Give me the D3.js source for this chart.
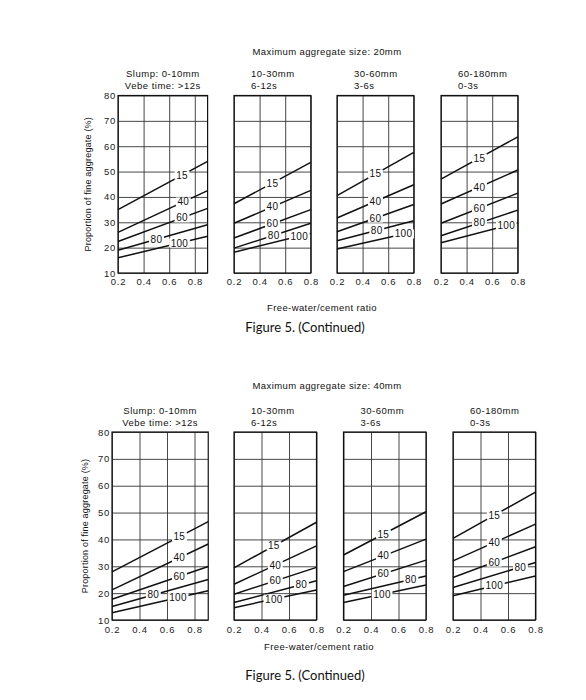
<!DOCTYPE html>
<html>
<head>
<meta charset="utf-8">
<script src="https://cdn.jsdelivr.net/npm/d3@7"></script>
<style>
  body { margin: 0; background: #fff; }
  svg { display: block; }
  .tick text { font-family: "Liberation Sans", Arial, sans-serif; font-size: 9.5px; letter-spacing: 0.7px; fill: #222; }
  .tick line { stroke: #333; stroke-width: 0.9; }
</style>
</head>
<body>
<div id="chart"></div>
<script>
// grid ticks
const xTicks = [0.2, 0.4, 0.6, 0.8];
const yTicks = [10, 20, 30, 40, 50, 60, 70, 80];

// line labels (% passing 600um sieve)
const curveLabels = ["15", "40", "60", "80", "100"];

// panel headings: slump / vebe time
const panelHeads = [
  ["Slump: 0-10mm", "Vebe time: >12s"],
  ["10-30mm", "6-12s"],
  ["30-60mm", "3-6s"],
  ["60-180mm", "0-3s"]
];
const xMaxes = [0.9, 0.8, 0.8, 0.8];

// max aggregate 20mm : value at w/c 0.2 and at right edge, per panel, per curve
const start20 = [
  [35, 26, 22.4, 19, 16],
  [37.3, 29.6, 23.8, 19.8, 18.2],
  [40.5, 31.7, 26.3, 22.7, 19.5],
  [47, 37.2, 29.6, 24.7, 21.9]
];
const end20 = [
  [54, 42.5, 35.5, 29, 24.5],
  [53.6, 42.6, 35, 29.6, 25.7],
  [57.6, 44.8, 37, 30.6, 26.3],
  [63.7, 50.6, 41.5, 34.8, 29.8]
];
const labelX20 = [
  [0.70, 0.71, 0.70, 0.50, 0.68],
  [0.50, 0.50, 0.50, 0.51, 0.71],
  [0.50, 0.50, 0.50, 0.51, 0.72],
  [0.50, 0.50, 0.50, 0.50, 0.71]
];

// max aggregate 40mm
const start40 = [
  [27.9, 21.2, 17.7, 15, 12.7],
  [29.4, 23.3, 19.6, 16.5, 14.6],
  [34.2, 28, 22.5, 19.2, 16.5],
  [40.4, 32, 25.8, 22.1, 19]
];
const end40 = [
  [46.6, 38.3, 29.9, 25.1, 20.9],
  [46.4, 37.6, 29.6, 24.6, 21.2],
  [50.3, 40.1, 32.3, 26.4, 23],
  [57.6, 45.7, 37.3, 31.4, 26.4]
];
const labelX40 = [
  [0.69, 0.69, 0.69, 0.50, 0.68],
  [0.49, 0.50, 0.50, 0.69, 0.49],
  [0.49, 0.49, 0.49, 0.69, 0.48],
  [0.50, 0.50, 0.50, 0.69, 0.50]
];

const W = 586, H = 700;
const fontMain = '"Liberation Sans", Arial, sans-serif';

const svg = d3.select("#chart").append("svg")
  .attr("width", W).attr("height", H);

function drawChart(cfg) {
  const g = svg.append("g");

  g.append("text")
    .attr("x", 327).attr("y", cfg.titleY)
    .attr("text-anchor", "middle")
    .style("font-family", fontMain).style("font-size", "9.5px")
    .style("letter-spacing", "0.4px").attr("fill", "#111")
    .text(cfg.title);

  const y = d3.scaleLinear().domain([10, 80]).range([cfg.bottom, cfg.top]);

  cfg.lefts.forEach((left, p) => {
    const xMax = xMaxes[p];
    const w = (xMax - 0.2) * cfg.unit;
    const x = d3.scaleLinear().domain([0.2, xMax]).range([left, left + w]);
    const pg = g.append("g");

    // x grid + tick labels
    pg.append("g")
      .attr("transform", `translate(0,${cfg.bottom})`)
      .call(d3.axisBottom(x).tickValues(xTicks).tickSize(-(cfg.bottom - cfg.top))
        .tickPadding(cfg.xPad).tickFormat(d3.format(".1f")))
      .call(a => a.select(".domain").remove());

    // y grid (+ labels on first panel)
    pg.append("g")
      .attr("transform", `translate(${left},0)`)
      .call(d3.axisLeft(y).tickValues(yTicks).tickSize(-w).tickPadding(2))
      .call(a => a.select(".domain").remove())
      .call(a => { if (p > 0) a.selectAll("text").remove(); });

    pg.append("rect")
      .attr("x", left).attr("y", cfg.top)
      .attr("width", w).attr("height", cfg.bottom - cfg.top)
      .attr("fill", "none").attr("stroke", "#111").attr("stroke-width", 1.2);

    // heading
    const head = pg.append("text")
      .style("font-family", fontMain).style("font-size", "9.5px")
      .style("letter-spacing", "0.5px").attr("fill", "#111");
    head.selectAll("tspan").data(panelHeads[p]).join("tspan")
      .attr("x", p === 0 ? left + w / 2 : left + 17)
      .attr("y", (d, i) => cfg.headY + i * 12)
      .attr("text-anchor", p === 0 ? "middle" : "start")
      .text(d => d);

    // curves
    const line = d3.line().x(d => x(d[0])).y(d => y(d[1]));
    curveLabels.forEach((lab, i) => {
      const y0 = cfg.starts[p][i], y1 = cfg.ends[p][i];
      pg.append("path")
        .datum([[0.2, y0], [xMax, y1]])
        .attr("d", line)
        .attr("fill", "none").attr("stroke", "#111").attr("stroke-width", 1.5);

      const lx = cfg.labelX[p][i];
      const ly = y0 + (y1 - y0) * (lx - 0.2) / (xMax - 0.2);
      const t = pg.append("text")
        .attr("x", x(lx)).attr("y", y(ly)).attr("dy", "0.35em")
        .attr("text-anchor", "middle")
        .style("font-family", fontMain).style("font-size", "10px")
        .style("letter-spacing", "0.3px").attr("fill", "#111")
        .text(lab);
      const bb = t.node().getBBox();
      pg.insert("rect", () => t.node())
        .attr("x", bb.x - 1.5).attr("y", bb.y + 1)
        .attr("width", bb.width + 3).attr("height", bb.height - 2)
        .attr("fill", "#fff");
    });
  });

  // y axis title
  const cy = (cfg.top + cfg.bottom) / 2;
  g.append("text")
    .attr("transform", `translate(${cfg.yLabelX},${cy}) rotate(-90)`)
    .attr("text-anchor", "middle")
    .style("font-family", fontMain).style("font-size", "9px")
    .style("letter-spacing", "0.2px").attr("fill", "#111")
    .text("Proportion of fine aggregate (%)");

  g.append("text")
    .attr("x", cfg.xLabelX).attr("y", cfg.xLabelY)
    .attr("text-anchor", "middle")
    .style("font-family", fontMain).style("font-size", "9.5px")
    .style("letter-spacing", "0.4px").attr("fill", "#111")
    .text("Free-water/cement ratio");

  g.append("text")
    .attr("x", 305).attr("y", cfg.captionY)
    .attr("text-anchor", "middle")
    .style("font-family", "Lato, 'Open Sans', sans-serif").style("font-size", "13px")
    .attr("fill", "#111")
    .text("Figure 5. (Continued)");
}

drawChart({
  title: "Maximum aggregate size: 20mm",
  titleY: 55, headY: 76.5,
  top: 95.5, bottom: 273,
  lefts: [118, 234, 337, 441], unit: 128,
  xPad: 5.5, yLabelX: 90.5,
  xLabelX: 322, xLabelY: 310.5, captionY: 331.5,
  starts: start20, ends: end20, labelX: labelX20
});

drawChart({
  title: "Maximum aggregate size: 40mm",
  titleY: 388.5, headY: 413.5,
  top: 432, bottom: 620,
  lefts: [112, 234, 343.5, 453], unit: 137.5,
  xPad: 6, yLabelX: 87.5,
  xLabelX: 319, xLabelY: 650, captionY: 680,
  starts: start40, ends: end40, labelX: labelX40
});
</script>
</body>
</html>
